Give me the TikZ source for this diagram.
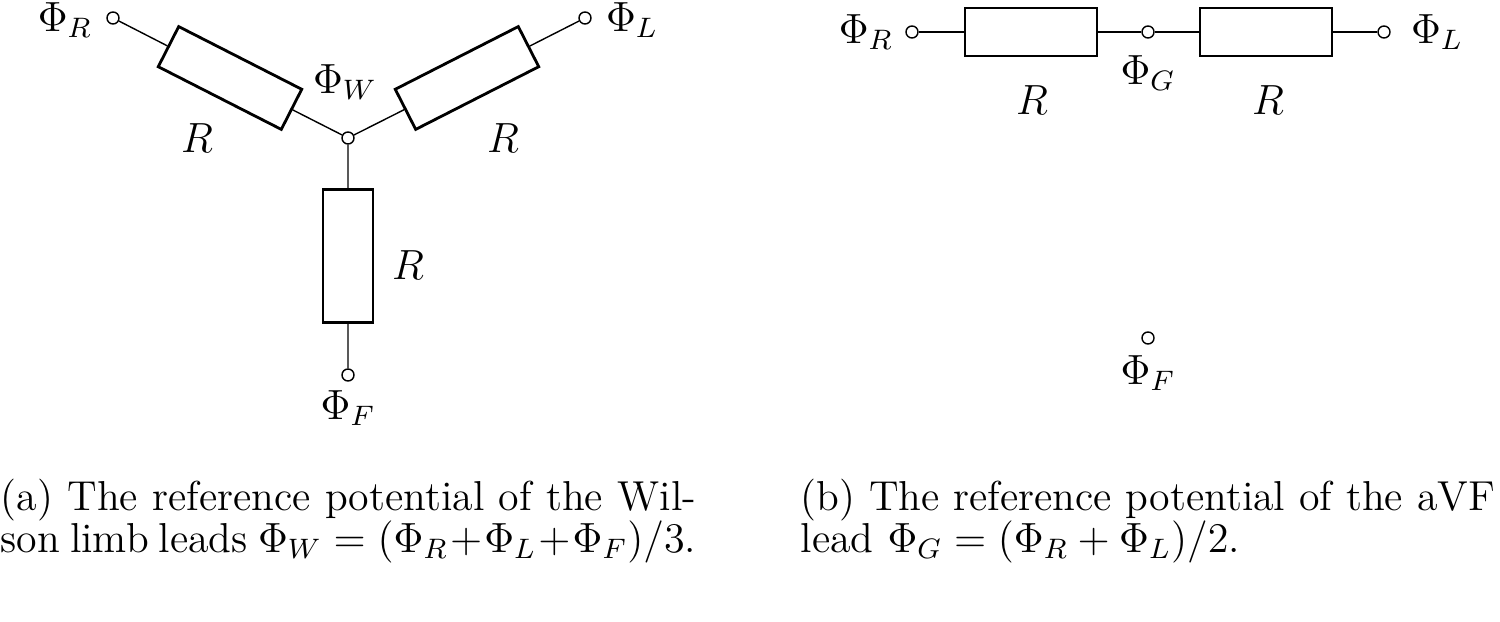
\documentclass[tikz,border=0pt]{standalone}
\begin{document}
\begin{tikzpicture}[x=0.01cm,y=-0.01cm,
  term/.style={circle,draw,line width=0.4pt,minimum size=0.12cm,inner sep=0pt,fill=white},
  res/.style={draw,line width=0.8pt,fill=white,minimum width=1.38cm,minimum height=0.45cm,inner sep=0pt},
  wire/.style={line width=0.4pt},
  lab/.style={font=\large},
  captext/.style={anchor=north west,inner sep=0pt,font=\fontsize{11.9}{12}\selectfont}]
\useasboundingbox (0,0) rectangle (1500,622);
% left circuit
\node[term] (tR) at (113,18) {};
\node[term] (tL) at (585,18) {};
\node[term] (W) at (348,138) {};
\node[term] (tF) at (348,375) {};
\node[res,rotate=-27] (r1) at (230,78) {};
\node[res,rotate=27] (r2) at (467,78) {};
\node[res,minimum width=1.33cm,minimum height=0.5cm,rotate=90] (r3) at (348,256) {};
\draw[wire] (tR) -- (r1) (r1) -- (W) (tL) -- (r2) (r2) -- (W) (W) -- (r3) (r3) -- (tF);
\node[lab] (lR) at (65,20) {$\Phi_R$};
\node[lab] (lL) at (632,20) {$\Phi_L$};
\node[lab] (lW) at (345,82) {$\Phi_W$};
\node[lab] (lr1) at (197,138) {$R$};
\node[lab] (lr2) at (503,138) {$R$};
\node[lab] (lr3) at (408,265) {$R$};
\node[lab] (lF) at (348,408) {$\Phi_F$};
% right circuit
\node[term] (bR) at (912,32) {};
\node[term] (G) at (1148,32) {};
\node[term] (bL) at (1384,32) {};
\node[res,minimum width=1.32cm,minimum height=0.48cm] (s1) at (1031,32) {};
\node[res,minimum width=1.32cm,minimum height=0.48cm] (s2) at (1266,32) {};
\draw[wire] (bR) -- (s1) -- (G) -- (s2) -- (bL);
\node[term] (bF) at (1148,338) {};
\node[lab] (mR) at (866,32) {$\Phi_R$};
\node[lab] (mL) at (1437,32) {$\Phi_L$};
\node[lab] (mG) at (1148,73) {$\Phi_G$};
\node[lab] (ms1) at (1032,100) {$R$};
\node[lab] (ms2) at (1268,100) {$R$};
\node[lab] (mF) at (1148,373) {$\Phi_F$};
% captions
\node[captext,text width=6.95cm,align=justify] (capa) at (0,478)
 {(a) The reference potential of the Wilson limb leads $\Phi_W=(\Phi_R+\Phi_L+\Phi_F)/3$.};
\node[captext,text width=7cm,align=left] (capb) at (800,478)
 {(b) The reference potential of the aVF lead $\Phi_G=(\Phi_R+\Phi_L)/2$.};
\end{tikzpicture}
\end{document}
